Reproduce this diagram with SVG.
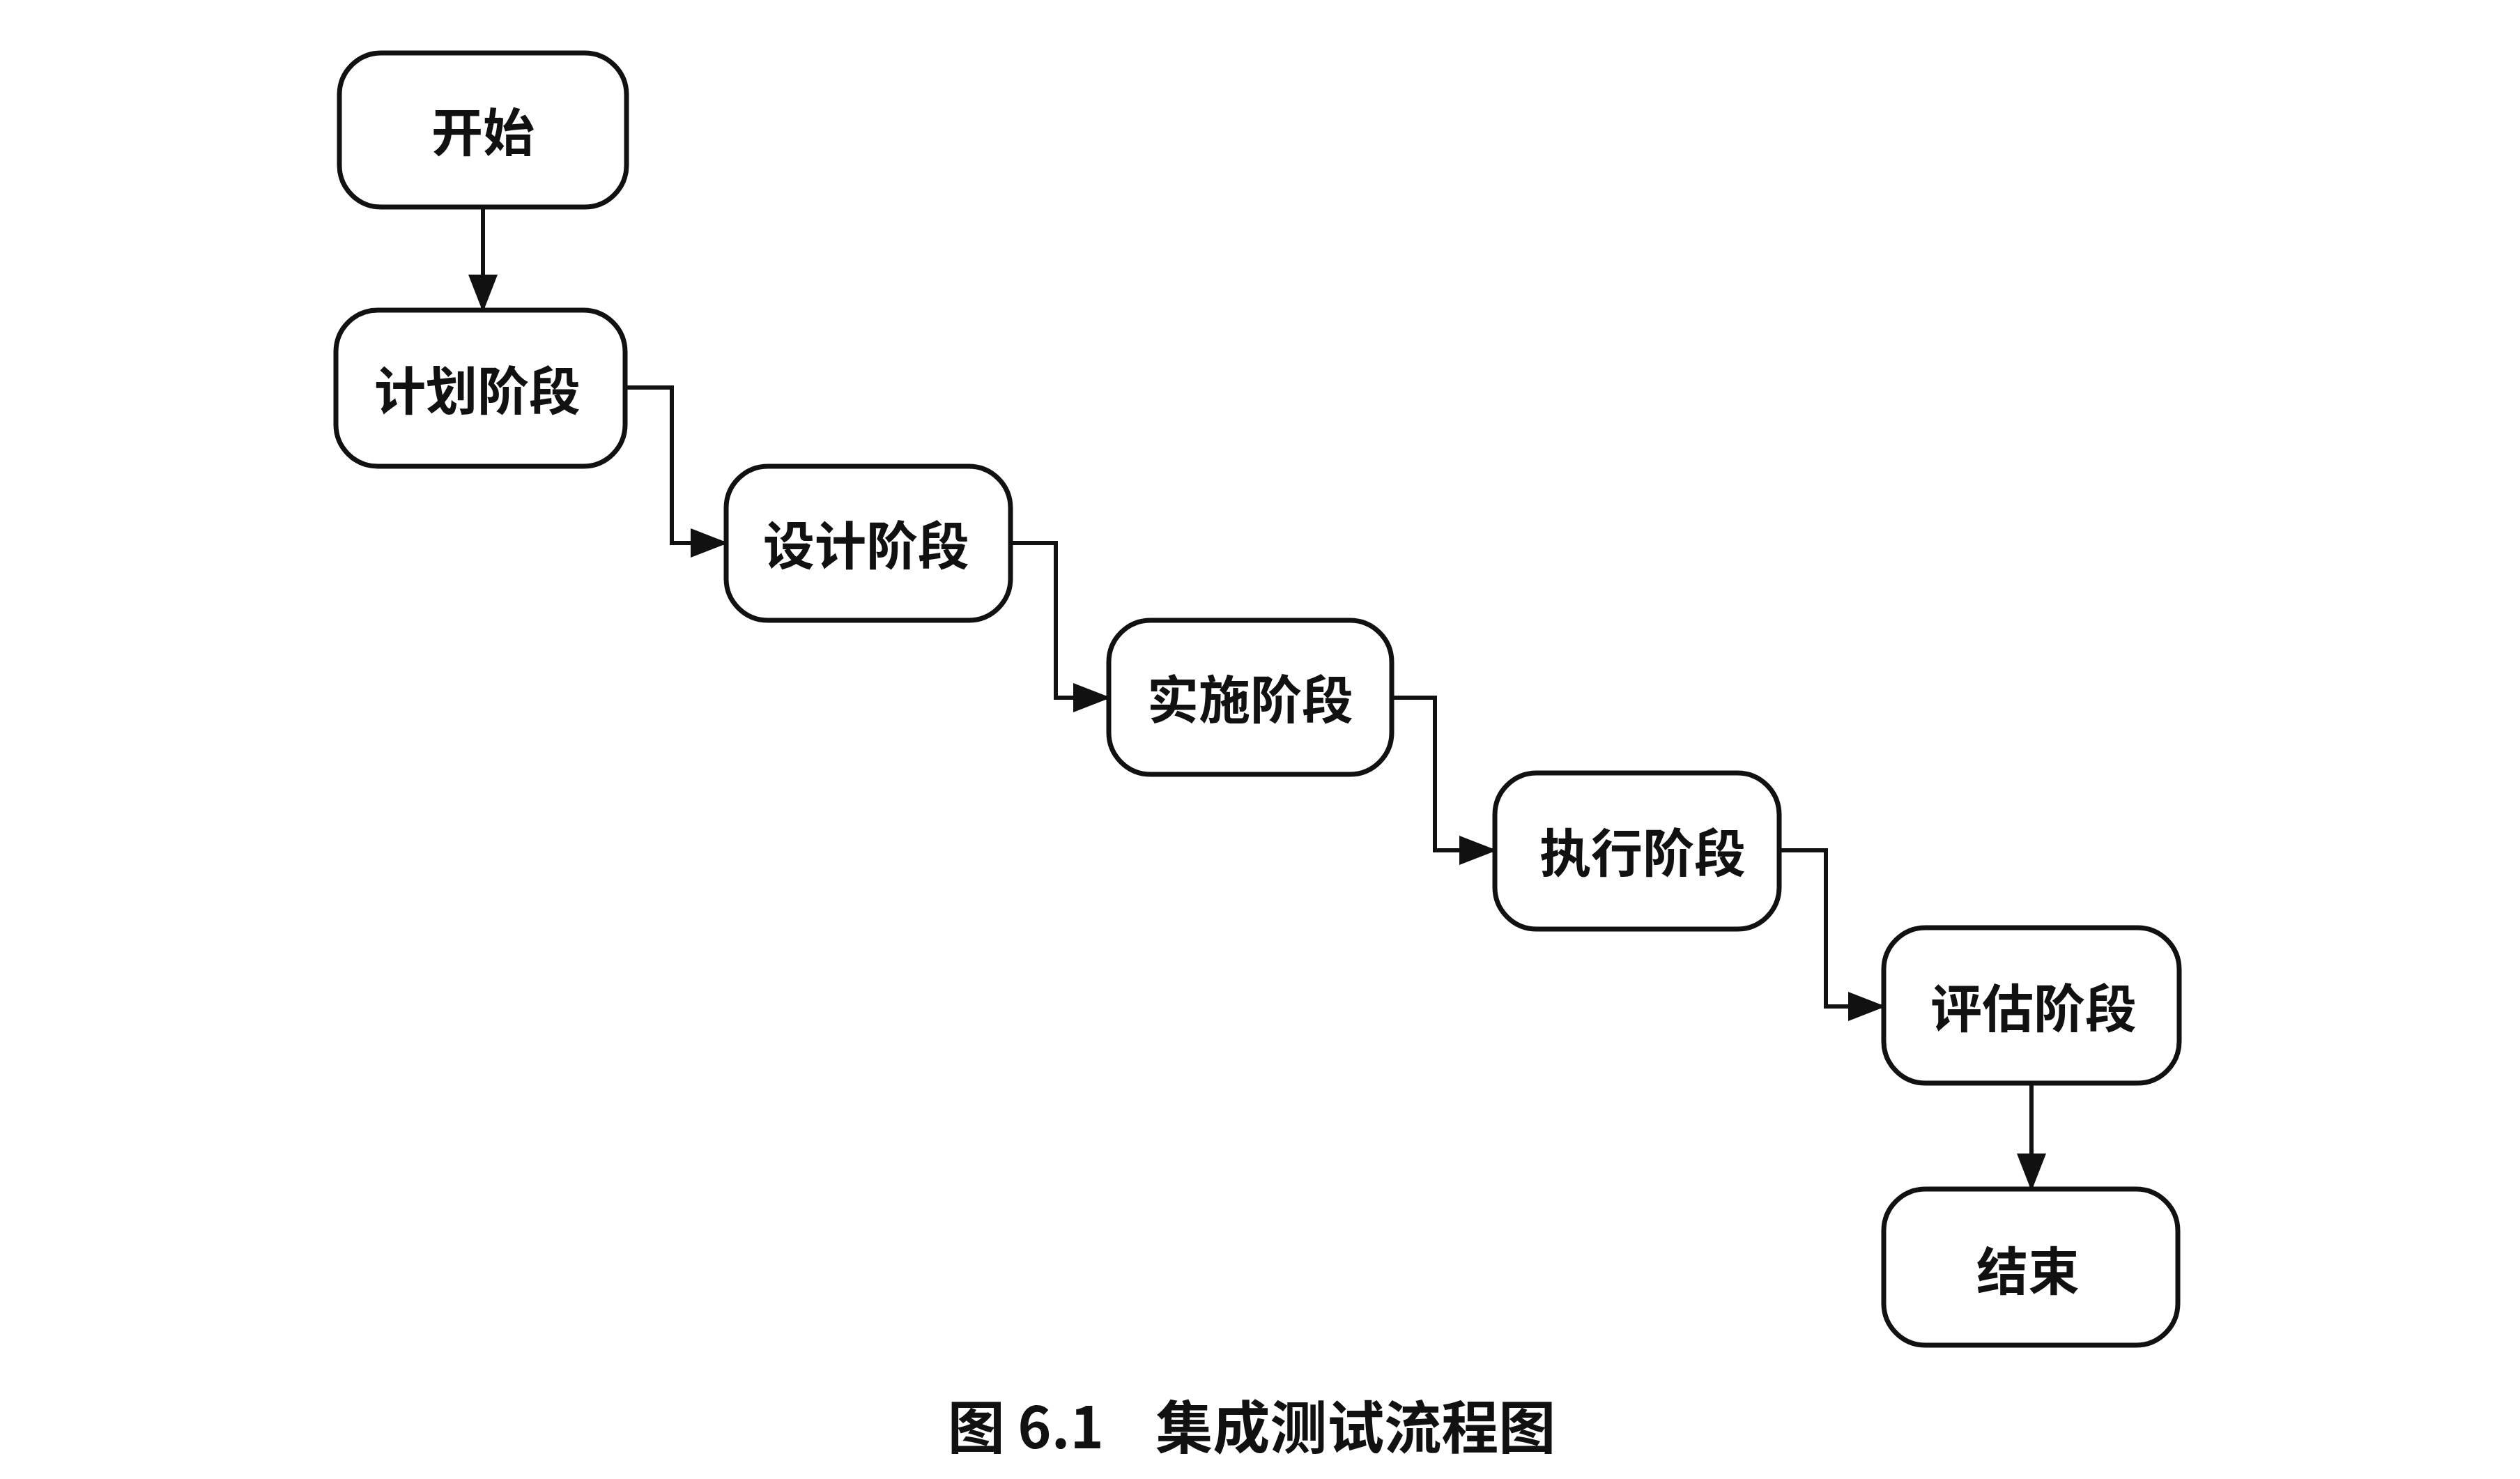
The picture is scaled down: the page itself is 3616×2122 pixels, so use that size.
<svg xmlns="http://www.w3.org/2000/svg" width="3616" height="2122" viewBox="0 0 3616 2122">
<style>
.n{fill:#fff;stroke:#111;stroke-width:7}
.t{font-family:"Noto Sans CJK SC","Noto Sans CJK JP",sans-serif;font-weight:bold;font-size:74px;fill:#111;text-anchor:middle;dominant-baseline:central}
.c{fill:none;stroke:#111;stroke-width:6}
</style>
<defs><marker id="a" markerWidth="9" markerHeight="7" refX="8" refY="3.5" orient="auto" markerUnits="strokeWidth"><path d="M0,0L9,3.5L0,7z" fill="#111"/></marker></defs>
<rect width="3616" height="2122" fill="#fff"/>
<g id="n1"><rect class="n" x="487" y="76" width="412" height="221" rx="60"/><text class="t" x="693" y="184">开始</text></g>
<g id="n2"><rect class="n" x="482" y="445" width="415" height="224" rx="60"/><text class="t" x="685" y="555">计划阶段</text></g>
<g id="n3"><rect class="n" x="1042" y="669" width="408" height="221" rx="60"/><text class="t" x="1243" y="777">设计阶段</text></g>
<g id="n4"><rect class="n" x="1591" y="890" width="406" height="221" rx="60"/><text class="t" x="1794" y="998">实施阶段</text></g>
<g id="n5"><rect class="n" x="2145" y="1109" width="408" height="224" rx="60"/><text class="t" x="2357" y="1218">执行阶段</text></g>
<g id="n6"><rect class="n" x="2703" y="1331" width="424" height="223" rx="60"/><text class="t" x="2918" y="1441">评估阶段</text></g>
<g id="n7"><rect class="n" x="2703" y="1706" width="422" height="224" rx="60"/><text class="t" x="2910" y="1818">结束</text></g>
<g id="edges">
<path class="c" marker-end="url(#a)" d="M693,297V442"/>
<path class="c" marker-end="url(#a)" d="M897,556H964V779H1039"/>
<path class="c" marker-end="url(#a)" d="M1450,779H1515V1001H1588"/>
<path class="c" marker-end="url(#a)" d="M1997,1001H2059V1220H2142"/>
<path class="c" marker-end="url(#a)" d="M2553,1220H2620V1444H2700"/>
<path class="c" marker-end="url(#a)" d="M2915,1554V1703"/>
</g>
<text x="1796" y="2042" style="font-family:'Noto Sans CJK SC',serif;font-weight:bold;font-size:82px;fill:#111;text-anchor:middle;dominant-baseline:central" xml:space="preserve">图 6.1    集成测试流程图</text>
</svg>
